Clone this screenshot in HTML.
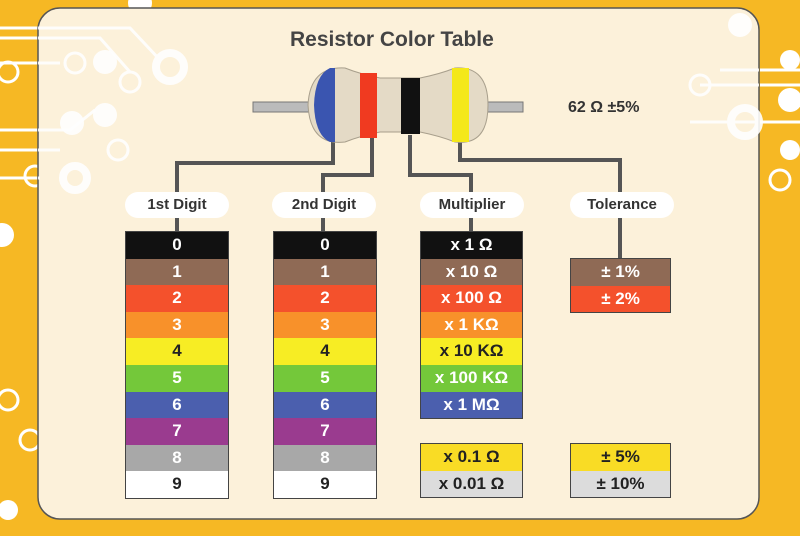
<!DOCTYPE html>
<html><head><meta charset="utf-8"><style>
body{margin:0;width:800px;height:536px;overflow:hidden;background:#f6b824;font-family:"Liberation Sans",sans-serif;}
svg{position:absolute;left:0;top:0}
.box{position:absolute;border:1px solid #444;box-sizing:border-box}
.row{height:26.6px;line-height:26.6px;text-align:center;font-weight:bold;font-size:17px;color:#fff}
.pill{position:absolute;height:26px;line-height:26px;background:#fff;border-radius:13px;text-align:center;font-weight:bold;font-size:15px;color:#333}
</style></head><body>
<svg width="800" height="536">
<g stroke="#fff" stroke-width="3" fill="none">
<path d="M0 28H130L160 60M0 38H100L130 72M0 63H60M0 130H70L95 110M0 150H60M0 178H40"/>
<path d="M760 70H800M760 85H800M760 122H800"/>
<circle cx="75" cy="63" r="10"/><circle cx="8" cy="72" r="10"/><circle cx="118" cy="150" r="10"/><circle cx="35" cy="176" r="10"/>
<circle cx="780" cy="180" r="10"/><circle cx="8" cy="400" r="10"/><circle cx="30" cy="440" r="10"/>
</g>
<g fill="#fff"><circle cx="140" cy="3" r="12"/><circle cx="2" cy="235" r="12"/><circle cx="790" cy="100" r="12"/><circle cx="790" cy="150" r="10"/><circle cx="8" cy="510" r="10"/><circle cx="790" cy="60" r="10"/></g>
<rect x="38" y="8" width="721" height="511" rx="22" fill="#fcf1da" stroke="#555" stroke-width="1.5"/>
<g stroke="#fff" stroke-width="3" fill="none" opacity=".9">
<path d="M38 28H130L160 60M38 38H100L130 72M38 63H60M38 130H70L95 110M38 150H60M38 178H40"/>
<circle cx="75" cy="63" r="10"/><circle cx="118" cy="150" r="10"/><circle cx="130" cy="82" r="10"/>
<circle cx="170" cy="67" r="14" stroke-width="8"/><circle cx="75" cy="178" r="12" stroke-width="8"/>
<path d="M759 70H720M759 85H700M759 122H690" />
<circle cx="700" cy="85" r="10"/><circle cx="745" cy="122" r="14" stroke-width="8"/>
</g>
<g fill="#fff" opacity=".9"><circle cx="105" cy="62" r="12"/><circle cx="72" cy="123" r="12"/><circle cx="105" cy="115" r="12"/><circle cx="740" cy="25" r="12"/></g>
<g stroke="#555" stroke-width="4" fill="none">
<path d="M333 135V163H177V195"/><path d="M372 135V175H323V195"/><path d="M410 135V175H471V195"/><path d="M460 135V160H620V195"/>
<path d="M177 216V231M323 216V231M471 216V231M620 216V258"/>
</g>
<rect x="253" y="102" width="270" height="10" fill="#bbb" stroke="#777"/>
<path d="M345 68Q310 66 308 105Q310 146 345 142Q360 136 380 132H420Q440 136 455 142Q488 146 488 105Q488 66 455 68Q440 74 420 78H380Q360 74 345 68Z" fill="#e4dac6" stroke="#a89f8c"/>
<path d="M330 68Q315 75 314 105Q315 135 330 142H335V68Z" fill="#3a55b0"/>
<rect x="360" y="73" width="17" height="65" fill="#f03a20"/>
<rect x="401" y="78" width="19" height="56" fill="#111"/>
<rect x="452" y="68" width="17" height="74" fill="#f4e81a"/>
<text x="290" y="46" font-family="Liberation Sans" font-weight="bold" font-size="21" fill="#444">Resistor Color Table</text>
<text x="568" y="112" font-family="Liberation Sans" font-weight="bold" font-size="16" fill="#333">62 Ω  ±5%</text>
</svg>
<div class="pill" style="left:125px;top:192px;width:104px">1st Digit</div>
<div class="pill" style="left:272px;top:192px;width:104px">2nd Digit</div>
<div class="pill" style="left:420px;top:192px;width:104px">Multiplier</div>
<div class="pill" style="left:570px;top:192px;width:104px">Tolerance</div>
<div class="box" style="left:125px;top:231px;width:104px">
<div class="row" style="background:#111">0</div><div class="row" style="background:#8f6a55">1</div><div class="row" style="background:#f4512c">2</div><div class="row" style="background:#f8912a">3</div><div class="row" style="background:#f7ed24;color:#222">4</div><div class="row" style="background:#74c83a">5</div><div class="row" style="background:#4b5fae">6</div><div class="row" style="background:#9a3b8f">7</div><div class="row" style="background:#a8a8a8">8</div><div class="row" style="background:#fff;color:#222">9</div></div>
<div class="box" style="left:273px;top:231px;width:104px">
<div class="row" style="background:#111">0</div><div class="row" style="background:#8f6a55">1</div><div class="row" style="background:#f4512c">2</div><div class="row" style="background:#f8912a">3</div><div class="row" style="background:#f7ed24;color:#222">4</div><div class="row" style="background:#74c83a">5</div><div class="row" style="background:#4b5fae">6</div><div class="row" style="background:#9a3b8f">7</div><div class="row" style="background:#a8a8a8">8</div><div class="row" style="background:#fff;color:#222">9</div></div>
<div class="box" style="left:420px;top:231px;width:103px">
<div class="row" style="background:#111">x 1 Ω</div><div class="row" style="background:#8f6a55">x 10 Ω</div><div class="row" style="background:#f4512c">x 100 Ω</div><div class="row" style="background:#f8912a">x 1 KΩ</div><div class="row" style="background:#f7ed24;color:#222">x 10 KΩ</div><div class="row" style="background:#74c83a">x 100 KΩ</div><div class="row" style="background:#4b5fae">x 1 MΩ</div></div>
<div class="box" style="left:570px;top:258px;width:101px">
<div class="row" style="background:#8f6a55">± 1%</div><div class="row" style="background:#f4512c">± 2%</div></div>
<div class="box" style="left:420px;top:443px;width:103px">
<div class="row" style="background:#f9dc25;color:#222">x 0.1 Ω</div><div class="row" style="background:#dcdcdc;color:#222">x 0.01 Ω</div></div>
<div class="box" style="left:570px;top:443px;width:101px">
<div class="row" style="background:#f9dc25;color:#222">± 5%</div><div class="row" style="background:#dcdcdc;color:#222">± 10%</div></div>
</body></html>
